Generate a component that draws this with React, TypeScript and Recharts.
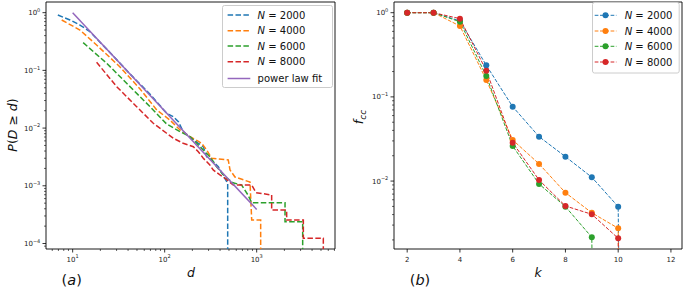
import { LineChart, Line, XAxis, YAxis, Legend, ReferenceArea } from 'recharts'

const FONT = '"DejaVu Sans", Verdana, sans-serif'
const BLUE = '#1f77b4'
const ORANGE = '#ff7f0e'
const GREEN = '#2ca02c'
const RED = '#d62728'
const PURPLE = '#9467bd'

// (a) degree ccdf P(D >= d). 0 = curve falls out of range
const degN2000 = [6.9, 9.35, 12.0, 15.4, 25.4, 42, 69, 105, 124, 141, 159, 188, 232, 263, 286, 324, 383, 472, 484, 484]
const ccdfN2000 = [0.91, 0.747, 0.61, 0.469, 0.204, 0.0866, 0.039, 0.0181, 0.0158, 0.0129, 0.00867, 0.0071, 0.00546, 0.00476, 0.00319, 0.0028, 0.00214, 0.00118, 0.00112, 0]
const degN4000 = [7.6, 12.0, 18.2, 32.7, 54, 82, 114, 147, 188, 223, 252, 286, 324, 491, 513, 581, 846, 883, 1105, 1105]
const ccdfN4000 = [0.747, 0.5, 0.275, 0.1146, 0.0476, 0.0206, 0.0138, 0.00927, 0.0071, 0.0061, 0.00546, 0.00417, 0.003, 0.0028, 0.00188, 0.00142, 0.00116, 0.000255, 0.000255, 0]
const degN6000 = [13.0, 23.4, 38.6, 69.2, 105, 147, 188, 223, 263, 310, 367, 452, 552, 687, 804, 883, 2033, 2033, 3162, 3162]
const ccdfN6000 = [0.302, 0.133, 0.0598, 0.0235, 0.01178, 0.00867, 0.0071, 0.00546, 0.00417, 0.00319, 0.00214, 0.00144, 0.00113, 0.00103, 0.000693, 0.00051, 0.00051, 0.000239, 0.000239, 0]
const degN8000 = [18.2, 30.1, 49.6, 75.2, 105, 124, 159, 205, 232, 263, 310, 337, 399, 452, 557, 883, 982, 1455, 1455, 2118, 2118, 3215, 3215, 5300, 5300]
const ccdfN8000 = [0.138, 0.0522, 0.0235, 0.0121, 0.00813, 0.00666, 0.00546, 0.00476, 0.0039, 0.003, 0.00229, 0.00188, 0.00154, 0.00135, 0.00103, 0.00103, 0.00076, 0.000693, 0.00038, 0.00038, 0.000255, 0.000255, 0.000123, 0.000123, 0]
const fitDeg = [10, 1000]
const fitCcdf = [1, 0.00039]

// (b) fraction in the giant component vs k
const ks = [2, 3, 4, 5, 6, 7, 8, 9, 10, 11, 12]
const fccN2000 = [1.0, 1.0, 0.8, 0.237, 0.0765, 0.0337, 0.0195, 0.0111, 0.00497, 0, 0]
const fccN4000 = [1.0, 1.0, 0.695, 0.159, 0.0308, 0.016, 0.00728, 0.0042, 0.00275, 0, 0]
const fccN6000 = [1.0, 1.0, 0.78, 0.177, 0.0261, 0.00924, 0.00497, 0.00215, 0, 0, 0]
const fccN8000 = [1.0, 1.0, 0.85, 0.205, 0.0286, 0.0103, 0.00506, 0.00403, 0.00209, 0, 0]

const sizeLabels = ['2000', '4000', '6000', '8000']

// axis limits + ticks
const A_X = [5.13, 7100]
const A_Y = [8.03e-5, 1.53]
const B_X = [1.5, 12.42]
const B_Y = [0.00156, 1.34]
const aXDecades = [1, 10, 100, 1000]
const aYDecades = [1e-5, 1e-4, 1e-3, 1e-2, 1e-1, 1]
const bYDecades = [1e-3, 1e-2, 1e-1, 1]
const bXTicks = [2, 4, 6, 8, 10, 12]
const MINOR = [1, 2, 3, 4, 5, 6, 7, 8, 9]

// matplotlib clips non-positive values on a log axis; do the same
const FLOOR = 1e-30
const lift = (v: number) => (v > 0 ? v : FLOOR)

const logTicks = (decades: number[], lim: number[]) =>
  decades.flatMap(m => MINOR.map(k => m * k)).filter(v => v >= lim[0] && v <= lim[1])

const toPoints = (ds: number[], ps: number[]) => ds.map((d, i) => ({ d, p: lift(ps[i]) }))

const isDecade = (v: number) => Math.abs(Math.log10(v) - Math.round(Math.log10(v))) < 1e-6
const expText = (v: number) => {
  const n = Math.round(Math.log10(v))
  return n < 0 ? '\u2212' + Math.abs(n) : String(n)
}

function LogYTick(props: any) {
  const { x, y, payload } = props
  const major = isDecade(payload.value)
  const len = major ? 3.5 : 2
  return (
    <g>
      <line x1={x - len} x2={x} y1={y} y2={y} stroke="#000" strokeWidth={major ? 0.8 : 0.6} />
      {major && (
        <text x={x - len - 2.2} y={y + 2.5} textAnchor="end" fontSize={7} fill="#222" fontFamily={FONT}>
          10<tspan dy={-3.3} fontSize={5}>{expText(payload.value)}</tspan>
        </text>
      )}
    </g>
  )
}

function LogXTick(props: any) {
  const { x, y, payload } = props
  const major = isDecade(payload.value)
  const len = major ? 3.5 : 2
  return (
    <g>
      <line x1={x} x2={x} y1={y} y2={y + len} stroke="#000" strokeWidth={major ? 0.8 : 0.6} />
      {major && (
        <text x={x} y={y + 12.7} textAnchor="middle" fontSize={7} fill="#222" fontFamily={FONT}>
          10<tspan dy={-3.3} fontSize={5}>{expText(payload.value)}</tspan>
        </text>
      )}
    </g>
  )
}

function LinXTick(props: any) {
  const { x, y, payload } = props
  return (
    <g>
      <line x1={x} x2={x} y1={y} y2={y + 3.5} stroke="#000" strokeWidth={0.8} />
      <text x={x} y={y + 12.7} textAnchor="middle" fontSize={7} fill="#222" fontFamily={FONT}>
        {payload.value}
      </text>
    </g>
  )
}

const NLabel = ({ x, y, n }: { x: number; y: number; n: string }) => (
  <text x={x} y={y} fontSize={10} fill="#111" fontFamily={FONT}>
    <tspan fontStyle="italic">N</tspan>
    <tspan> = {n}</tspan>
  </text>
)

const aSeries = [
  { name: 'N2000', color: BLUE, pts: toPoints(degN2000, ccdfN2000) },
  { name: 'N4000', color: ORANGE, pts: toPoints(degN4000, ccdfN4000) },
  { name: 'N6000', color: GREEN, pts: toPoints(degN6000, ccdfN6000) },
  { name: 'N8000', color: RED, pts: toPoints(degN8000, ccdfN8000) },
]
const aColors = [BLUE, ORANGE, GREEN, RED]

function LegendA() {
  const rows = [5, 20.7, 36, 51.7]
  return (
    <svg width={111} height={83}>
      <rect x={0.5} y={0.5} width={110} height={82} rx={2} fill="#fff" fillOpacity={0.8} stroke="#ccc" />
      {rows.map((ry, i) => (
        <g key={i}>
          <line x1={5.6} x2={28.3} y1={ry + 5} y2={ry + 5} stroke={aColors[i]} strokeWidth={1.5} strokeDasharray="5.5 2.4" />
          <NLabel x={35.6} y={ry + 8.6} n={sizeLabels[i]} />
        </g>
      ))}
      <line x1={5.6} x2={28.3} y1={73.5} y2={73.5} stroke={PURPLE} strokeWidth={1.5} />
      <text x={35.6} y={77.1} fontSize={10} fill="#111" fontFamily={FONT}>power law fit</text>
    </svg>
  )
}

function LegendB() {
  const rows = [13.3, 29, 44.3, 60]
  return (
    <svg width={88} height={72}>
      <rect x={0.5} y={0.5} width={86.7} height={70.5} rx={2} fill="#fff" fillOpacity={0.8} stroke="#ccc" />
      {rows.map((ry, i) => (
        <g key={i}>
          <line x1={2.7} x2={24.4} y1={ry} y2={ry} stroke={aColors[i]} strokeWidth={1} strokeDasharray="3.7 1.6" />
          <circle cx={13.5} cy={ry} r={3} fill={aColors[i]} />
          <NLabel x={32.7} y={ry + 3.6} n={sizeLabels[i]} />
        </g>
      ))}
    </svg>
  )
}

const fccRows = ks.map((k, i) => ({
  k,
  N2000: lift(fccN2000[i]),
  N4000: lift(fccN4000[i]),
  N6000: lift(fccN6000[i]),
  N8000: lift(fccN8000[i]),
}))

export default function App() {
  return (
    <div style={{ position: 'absolute', left: 0, top: 0, width: 685, height: 287, background: '#fff', fontFamily: FONT }}>
      <LineChart
        width={340}
        height={287}
        margin={{ top: 2, right: 5, bottom: 0, left: 0 }}
        style={{ position: 'absolute', left: 0, top: 0 }}
      >
        <XAxis
          dataKey="d"
          type="number"
          scale="log"
          domain={A_X}
          allowDataOverflow
          ticks={logTicks(aXDecades, A_X)}
          interval={0}
          tick={LogXTick}
          tickLine={false}
          axisLine={false}
          tickSize={0}
          tickMargin={0}
          height={38}
        />
        <YAxis
          type="number"
          scale="log"
          domain={A_Y}
          allowDataOverflow
          ticks={logTicks(aYDecades, A_Y)}
          interval={0}
          tick={LogYTick}
          tickLine={false}
          axisLine={false}
          tickSize={0}
          tickMargin={0}
          width={46}
        />
        <ReferenceArea x1={A_X[0]} x2={A_X[1]} y1={A_Y[0]} y2={A_Y[1]} fill="none" stroke="#000" strokeWidth={0.9} ifOverflow="visible" />
        {aSeries.map(s => (
          <Line
            key={s.name}
            data={s.pts}
            dataKey="p"
            type="linear"
            stroke={s.color}
            strokeWidth={1.5}
            strokeDasharray="5.5 2.4"
            dot={false}
            activeDot={false}
            isAnimationActive={false}
          />
        ))}
        <Line
          data={toPoints(fitDeg, fitCcdf)}
          dataKey="p"
          type="linear"
          stroke={PURPLE}
          strokeWidth={1.5}
          dot={false}
          activeDot={false}
          isAnimationActive={false}
        />
        <Legend
          layout="horizontal"
          verticalAlign="middle"
          align="center"
          content={() => <LegendA />}
          wrapperStyle={{ left: 221.5, top: 4.5, width: 111, height: 83 }}
        />
      </LineChart>

      <LineChart
        width={345}
        height={287}
        data={fccRows}
        margin={{ top: 2, right: 3, bottom: 0, left: 0 }}
        style={{ position: 'absolute', left: 340, top: 0 }}
      >
        <XAxis
          dataKey="k"
          type="number"
          domain={B_X}
          allowDataOverflow
          ticks={bXTicks}
          interval={0}
          tick={LinXTick}
          tickLine={false}
          axisLine={false}
          tickSize={0}
          tickMargin={0}
          height={38}
        />
        <YAxis
          type="number"
          scale="log"
          domain={B_Y}
          allowDataOverflow
          ticks={logTicks(bYDecades, B_Y)}
          interval={0}
          tick={LogYTick}
          tickLine={false}
          axisLine={false}
          tickSize={0}
          tickMargin={0}
          width={54}
        />
        <ReferenceArea x1={B_X[0]} x2={B_X[1]} y1={B_Y[0]} y2={B_Y[1]} fill="none" stroke="#000" strokeWidth={0.9} ifOverflow="visible" />
        {['N2000', 'N4000', 'N6000', 'N8000'].map((key, i) => (
          <Line
            key={key}
            dataKey={key}
            type="linear"
            stroke={aColors[i]}
            strokeWidth={1}
            strokeDasharray="3.7 1.6"
            dot={{ r: 3, fill: aColors[i], strokeWidth: 0 }}
            activeDot={false}
            isAnimationActive={false}
          />
        ))}
        <Legend
          layout="horizontal"
          verticalAlign="middle"
          align="center"
          content={() => <LegendB />}
          wrapperStyle={{ left: 252, top: 1.5, width: 88, height: 72 }}
        />
      </LineChart>

      <svg width={685} height={287} style={{ position: 'absolute', left: 0, top: 0, pointerEvents: 'none' }} fontFamily={FONT}>
        <text transform="translate(17.3,125) rotate(-90)" textAnchor="middle" fontSize={12.5} fill="#111">
          <tspan fontStyle="italic">P</tspan>(<tspan fontStyle="italic">D</tspan> ≥ <tspan fontStyle="italic">d</tspan>)
        </text>
        <text x={191} y={276.7} textAnchor="middle" fontSize={12.5} fontStyle="italic" fill="#111">d</text>
        <text x={71.7} y={285} textAnchor="middle" fontSize={14.5} fill="#111">
          (<tspan fontStyle="italic">a</tspan>)
        </text>
        <text transform="translate(363,117) rotate(-90)" textAnchor="middle" fontSize={12.5} fill="#111">
          <tspan fontStyle="italic">f</tspan>
          <tspan fontStyle="italic" fontSize={9} dy={3}>cc</tspan>
        </text>
        <text x={538} y={276.7} textAnchor="middle" fontSize={12.5} fontStyle="italic" fill="#111">k</text>
        <text x={420} y={285} textAnchor="middle" fontSize={14.5} fill="#111">
          (<tspan fontStyle="italic">b</tspan>)
        </text>
      </svg>
    </div>
  )
}
